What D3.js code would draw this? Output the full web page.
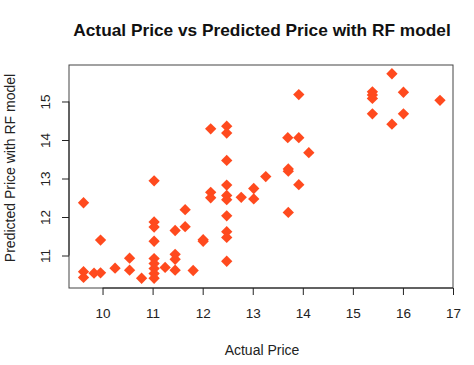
<!DOCTYPE html>
<html>
<head>
<meta charset="utf-8">
<script src="https://cdn.jsdelivr.net/npm/d3@7"></script>
<style>
  body { margin: 0; background: #fff; }
  text { font-family: "Liberation Sans", Arial, sans-serif; fill: #222; }
</style>
</head>
<body>
<div id="chart"></div>
<script>
// values
var actual = [
  9.62, 9.62, 9.62, 9.83, 9.96, 9.96, 10.25, 10.54, 10.54, 10.78,
  11.03, 11.03, 11.03, 11.03, 11.03, 11.03, 11.03, 11.03, 11.03, 11.25,
  11.45, 11.45, 11.45, 11.45, 11.65, 11.65, 11.81, 12.01, 12.01,
  12.16, 12.16, 12.16, 12.48, 12.48, 12.48, 12.48, 12.48, 12.48, 12.48,
  12.48, 12.48, 12.48, 12.77, 13.02, 13.02, 13.26, 13.70, 13.92, 13.92,
  14.12, 13.71, 13.71, 13.92, 13.71, 15.39, 15.39, 15.39, 15.39, 15.78,
  15.78, 16.01, 16.01, 16.74
];
var predicted = [
  12.37, 10.58, 10.43, 10.54, 10.55, 11.40, 10.67, 10.93, 10.62, 10.41,
  12.94, 11.87, 11.74, 11.37, 10.92, 10.79, 10.66, 10.53, 10.41, 10.69,
  11.03, 10.90, 10.62, 11.65, 11.75, 12.19, 10.61, 11.41, 11.37,
  14.29, 12.64, 12.50, 14.36, 14.18, 13.47, 12.83, 12.56, 12.45, 12.03,
  11.62, 11.47, 10.85, 12.51, 12.74, 12.47, 13.05, 14.06, 14.06, 15.18,
  13.67, 13.25, 13.19, 12.84, 12.12, 15.25, 15.17, 15.08, 14.68, 15.72,
  14.41, 15.24, 14.68, 15.03
];
var xTicks = [10, 11, 12, 13, 14, 15, 16, 17];
var yTicks = [11, 12, 13, 14, 15];

var title = "Actual Price vs Predicted Price with RF model";
var xTitle = "Actual Price";
var yTitle = "Predicted Price with RF model";

var width = 474, height = 365;
var box = {left: 69, right: 453, top: 65, bottom: 288};

var svg = d3.select("#chart").append("svg")
    .attr("width", width)
    .attr("height", height);

// scales (R style 4% padding baked into the domains)
var x = d3.scaleLinear().domain([9.33, 17.0]).range([box.left, box.right]);
var y = d3.scaleLinear().domain([10.156, 15.948]).range([box.bottom, box.top]);

var data = actual.map(function (a, i) { return {a: a, p: predicted[i]}; });

// points (filled diamonds like pch 18)
svg.selectAll("path.point")
    .data(data)
  .enter().append("path")
    .attr("class", "point")
    .attr("d", d3.symbol().type(d3.symbolSquare).size(64))
    .attr("fill", "#ff4a1e")
    .attr("transform", function (d) {
      return "translate(" + x(d.a) + "," + y(d.p) + ") rotate(45)";
    });

// box
svg.append("rect")
    .attr("x", box.left)
    .attr("y", box.top)
    .attr("width", box.right - box.left)
    .attr("height", box.bottom - box.top)
    .attr("fill", "none")
    .attr("stroke", "#444")
    .attr("stroke-width", 1);

// x axis
var gx = svg.append("g")
    .attr("transform", "translate(0," + box.bottom + ")")
    .call(d3.axisBottom(x).tickValues(xTicks).tickFormat(d3.format("d"))
      .tickSize(7).tickPadding(13));
gx.select(".domain").attr("d", "M" + x(10) + ",0H" + x(17)).attr("stroke", "#222");
gx.selectAll(".tick line").attr("stroke", "#222");
gx.selectAll("text").attr("font-size", "13.5px").attr("fill", "#222");

// y axis
var gy = svg.append("g")
    .attr("transform", "translate(" + box.left + ",0)")
    .call(d3.axisLeft(y).tickValues(yTicks).tickFormat(d3.format("d"))
      .tickSize(7).tickPadding(0));
gy.select(".domain").attr("d", "M0," + y(11) + "V" + y(15)).attr("stroke", "#222");
gy.selectAll(".tick line").attr("stroke", "#222");
gy.selectAll(".tick text")
    .attr("font-size", "13.5px")
    .attr("fill", "#222")
    .attr("text-anchor", "middle")
    .attr("x", 0).attr("dy", null)
    .attr("transform", "translate(-19,0) rotate(-90)");

// titles
svg.append("text")
    .attr("x", 262).attr("y", 36)
    .attr("text-anchor", "middle")
    .attr("font-size", "17.3px")
    .attr("font-weight", "bold")
    .style("fill", "#111")
    .text(title);

svg.append("text")
    .attr("x", 262).attr("y", 355)
    .attr("text-anchor", "middle")
    .attr("font-size", "14px")
    .text(xTitle);

svg.append("text")
    .attr("transform", "translate(15,168) rotate(-90)")
    .attr("text-anchor", "middle")
    .attr("font-size", "14px")
    .text(yTitle);
</script>
</body>
</html>
